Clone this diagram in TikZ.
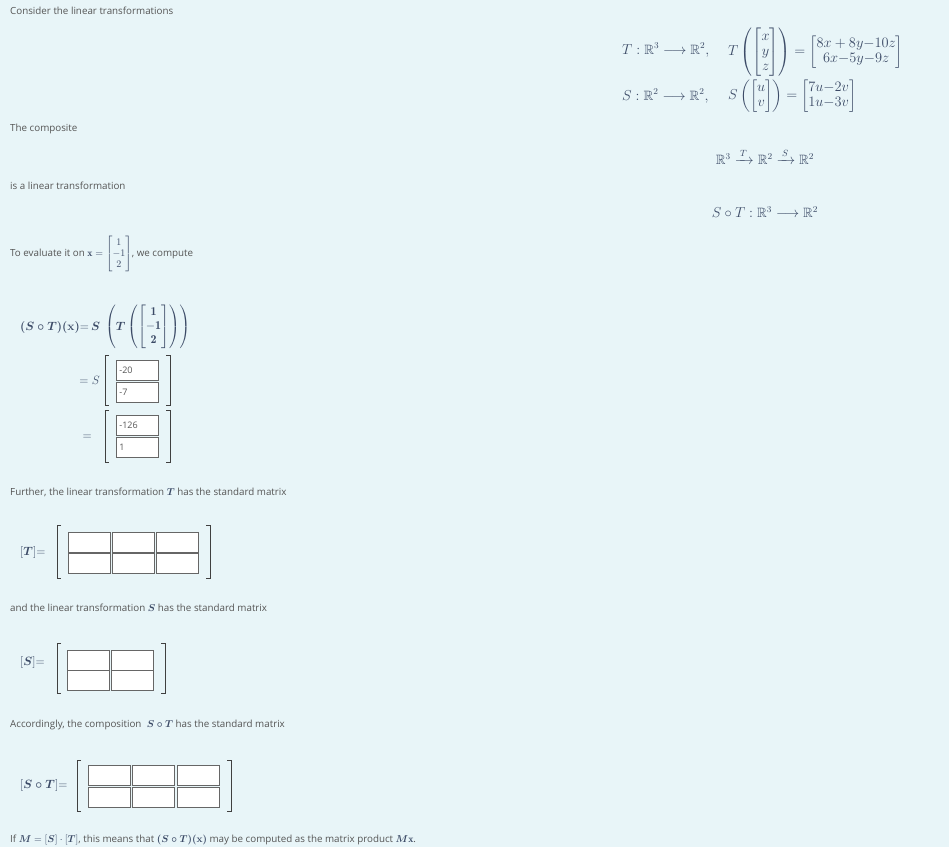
\documentclass[tikz,border=0pt]{standalone}
\usepackage{amsmath,amssymb}
\usepackage{fontspec}
\setsansfont{Open Sans}
\definecolor{bg}{HTML}{E8F5F8}
\definecolor{txt}{HTML}{555555}
\definecolor{mth}{HTML}{3B4A66}
\begin{document}
\begin{tikzpicture}[x=1pt,y=-1pt,
  lbl/.style={anchor=west,inner sep=0pt,text=txt,font=\sffamily\fontsize{9.8}{11}\selectfont},
  mt/.style={inner sep=0pt,text=mth,font=\fontsize{12}{14}\selectfont},
  mr/.style={inner sep=0pt,text=mth,font=\fontsize{13.5}{15}\selectfont},
  ibox/.style={draw=gray!80!black,fill=white,line width=0.8pt,anchor=north west,minimum width=42pt,minimum height=20pt,inner sep=2pt,text=txt,font=\sffamily\fontsize{9}{10}\selectfont,align=left,text width=36pt},
  brk/.style={draw=black!75,line width=1pt}]
\useasboundingbox[fill=bg] (0,0) rectangle (949,847);
\node[lbl] (c1) at (10,11) {Consider the linear transformations};
\node[mr,anchor=west] (tdef) at (622,50) {$T:\mathbb{R}^3\longrightarrow\mathbb{R}^2,$};
\node[mr,anchor=west] (tmap) at (728,52) {$T\left(\begin{bmatrix}x\\y\\z\end{bmatrix}\right)=\begin{bmatrix}8x+8y{-}10z\\6x{-}5y{-}9z\end{bmatrix}$};
\node[mr,anchor=west] (sdef) at (622,96) {$S:\mathbb{R}^2\longrightarrow\mathbb{R}^2,$};
\node[mr,anchor=west] (smap) at (728,96) {$S\left(\begin{bmatrix}u\\v\end{bmatrix}\right)=\begin{bmatrix}7u{-}2v\\1u{-}3v\end{bmatrix}$};
\node[lbl] (c2) at (10,129) {The composite};
\node[mr] (comp) at (765,157) {$\mathbb{R}^3\xrightarrow{\;T\;}\mathbb{R}^2\xrightarrow{\;S\;}\mathbb{R}^2$};
\node[lbl] (c3) at (10,186) {is a linear transformation};
\node[mr] (st) at (765,212) {$S\circ T:\mathbb{R}^3\longrightarrow\mathbb{R}^2$};
\node[lbl] (c4) at (10,254) {To evaluate it on \textcolor{mth}{$\mathbf{x}=\begin{bmatrix}1\\-1\\2\end{bmatrix}$}, we compute};
\node[mt,anchor=west] (e1) at (20,327) {$\boldsymbol{(S\circ T)(\mathbf{x})}{=}\,\boldsymbol{S}\;\left(\boldsymbol{T}\left(\begin{bmatrix}\mathbf{1}\\\mathbf{-1}\\\mathbf{2}\end{bmatrix}\right)\right)$};
\node[mt,anchor=east] (e2) at (100,380) {$=S$};
\draw[brk] (109,355) -- (105,355) -- (105,405) -- (109,405);
\draw[brk] (166,355) -- (170,355) -- (170,405) -- (166,405);
\node[ibox] (b1) at (116,360) {-20};
\node[ibox] (b2) at (116,382) {-7};
\node[mt,anchor=east] (e3) at (92,437) {$=$};
\draw[brk] (109,410) -- (105,410) -- (105,462) -- (109,462);
\draw[brk] (166,410) -- (170,410) -- (170,462) -- (166,462);
\node[ibox] (b3) at (116,415) {-126};
\node[ibox] (b4) at (116,437) {1};
\node[lbl] (c5) at (10,492) {Further, the linear transformation \textcolor{mth}{$\boldsymbol{T}$} has the standard matrix};
\node[mt,anchor=west] (tm) at (20,552) {$[\boldsymbol{T}]{=}$};
\draw[brk] (61,525) -- (57,525) -- (57,578) -- (61,578);
\draw[brk] (206,525) -- (210,525) -- (210,578) -- (206,578);
\foreach \i/\x in {1/68,2/112,3/156}{\foreach \j/\y in {1/532,2/553}{\node[ibox] (t\i\j) at (\x,\y) {};}}
\node[lbl] (c6) at (10,608) {and the linear transformation \textcolor{mth}{$\boldsymbol{S}$} has the standard matrix};
\node[mt,anchor=west] (sm) at (20,662) {$[\boldsymbol{S}]{=}$};
\draw[brk] (61,643) -- (57,643) -- (57,693) -- (61,693);
\draw[brk] (161,643) -- (165,643) -- (165,693) -- (161,693);
\foreach \i/\x in {1/67,2/111}{\foreach \j/\y in {1/650,2/670}{\node[ibox] (s\i\j) at (\x,\y) {};}}
\node[lbl] (c7) at (10,725) {Accordingly, the composition \textcolor{mth}{$\;\boldsymbol{S\circ T}$} has the standard matrix};
\node[mt,anchor=west] (stm) at (20,785) {$[\boldsymbol{S\circ T}]{=}$};
\draw[brk] (81,760) -- (77,760) -- (77,811) -- (81,811);
\draw[brk] (227,760) -- (231,760) -- (231,811) -- (227,811);
\foreach \i/\x in {1/88,2/132,3/177}{\foreach \j/\y in {1/765,2/787}{\node[ibox] (u\i\j) at (\x,\y) {};}}
\node[lbl] (c8) at (10,840) {If \textcolor{mth}{$\boldsymbol{M}=[\boldsymbol{S}]\cdot[\boldsymbol{T}]$}, this means that \textcolor{mth}{$\boldsymbol{(S\circ T)(\mathbf{x})}$} may be computed as the matrix product \textcolor{mth}{$\boldsymbol{M}\mathbf{x}$}.};
\end{tikzpicture}
\end{document}
